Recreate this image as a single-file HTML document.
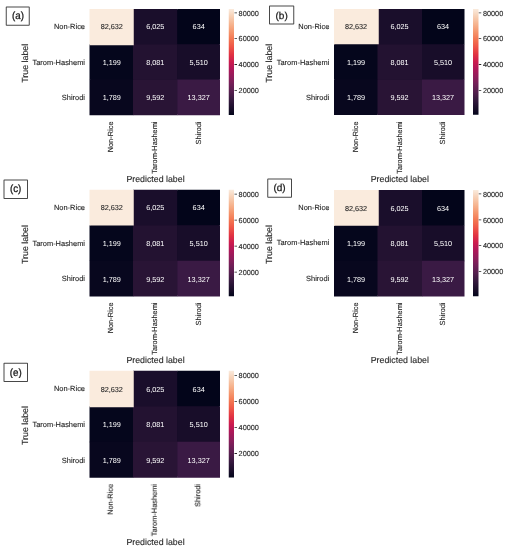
<!DOCTYPE html><html><head><meta charset="utf-8"><title>Confusion matrices</title><style>
html,body{margin:0;padding:0;background:#fff;overflow:hidden;}
#wrap{position:absolute;left:0;top:0;width:507px;height:550px;overflow:hidden;background:#fff;}
body{width:507px;height:550px;position:relative;overflow:hidden;font-family:"Liberation Sans",Arial,sans-serif;color:#262626;text-rendering:geometricPrecision;-webkit-text-stroke:0.48px currentColor;}
#root{position:absolute;left:0;top:0;width:2028.00px;height:2200.00px;transform:scale(0.25);transform-origin:0 0;filter:blur(1.60px);}
.p{position:absolute;left:0;top:0;}
.c{position:absolute;}
.v{position:absolute;-webkit-text-stroke:0;font-size:29.00px;line-height:40.00px;height:40.00px;text-align:center;color:#fff;white-space:nowrap;}
.v.d{color:#262626;-webkit-text-stroke:0.40px currentColor;}
.yl{position:absolute;font-size:29.80px;line-height:40.00px;height:40.00px;text-align:right;width:320.00px;white-space:nowrap;}
.xl{position:absolute;font-size:29.60px;line-height:40.00px;height:40.00px;width:320.00px;text-align:right;white-space:nowrap;transform-origin:100% 50%;transform:rotate(-90deg);}
.tl{position:absolute;font-size:35.40px;line-height:40.00px;height:40.00px;width:320.00px;text-align:center;white-space:nowrap;transform:rotate(-90deg);}
.pl{position:absolute;font-size:35.20px;line-height:40.00px;height:40.00px;width:400.00px;text-align:center;white-space:nowrap;}
.cb{position:absolute;background:linear-gradient(to top,#03051a 0%,#1c0f2c 7%,#35193e 14.3%,#531e4d 21.5%,#701f57 28.6%,#8f1d5b 35.7%,#ad1759 42.9%,#cb1b4f 50%,#e13342 57.1%,#ee5547 64.3%,#f37651 71.4%,#f5966d 78.6%,#f6b48f 85.7%,#f7d0b5 92.9%,#faebdd 100%);}
.tk{position:absolute;height:3.20px;width:10.00px;background:#262626;}
.tt{position:absolute;font-size:29.20px;line-height:40.00px;height:40.00px;white-space:nowrap;}
.bx{position:absolute;box-sizing:border-box;border:4.00px solid #484848;background:#fff;text-align:center;white-space:nowrap;color:#1a1a1a;border-radius:3.20px;}
.bx span{display:inline-block;}
</style></head><body><div id="wrap"><div id="root">
<div class="p">
<div class="c" style="left:362.40px;top:39.60px;width:513.60px;height:416.00px;background:#0c0920;z-index:0"></div>
<div class="c" style="left:358.40px;top:35.60px;width:176.67px;height:144.93px;background:#faebdd;z-index:2"></div>
<div class="c" style="left:532.27px;top:35.60px;width:177.47px;height:142.53px;background:#1a0e2b;z-index:1"></div>
<div class="c" style="left:708.53px;top:35.60px;width:171.47px;height:142.53px;background:#03051a;z-index:1"></div>
<div class="c" style="left:358.40px;top:176.93px;width:175.07px;height:142.53px;background:#05061c;z-index:1"></div>
<div class="c" style="left:532.27px;top:176.93px;width:177.47px;height:142.53px;background:#231231;z-index:1"></div>
<div class="c" style="left:708.53px;top:176.93px;width:171.47px;height:142.53px;background:#180d29;z-index:1"></div>
<div class="c" style="left:358.40px;top:318.27px;width:175.07px;height:142.53px;background:#08071e;z-index:1"></div>
<div class="c" style="left:532.27px;top:318.27px;width:177.47px;height:142.53px;background:#291435;z-index:1"></div>
<div class="c" style="left:708.53px;top:318.27px;width:171.47px;height:142.53px;background:#3a1a44;z-index:1"></div>
<div class="v d" style="left:360.00px;top:87.87px;width:173.87px;z-index:3">82,632</div>
<div class="v" style="left:533.87px;top:87.87px;width:173.87px;z-index:3">6,025</div>
<div class="v" style="left:707.73px;top:87.87px;width:173.87px;z-index:3">634</div>
<div class="v" style="left:360.00px;top:230.40px;width:173.87px;z-index:3">1,199</div>
<div class="v" style="left:533.87px;top:230.40px;width:173.87px;z-index:3">8,081</div>
<div class="v" style="left:707.73px;top:230.40px;width:173.87px;z-index:3">5,510</div>
<div class="v" style="left:360.00px;top:372.13px;width:173.87px;z-index:3">1,789</div>
<div class="v" style="left:533.87px;top:372.13px;width:173.87px;z-index:3">9,592</div>
<div class="v" style="left:707.73px;top:372.13px;width:173.87px;z-index:3">13,327</div>
<div class="yl" style="left:20.00px;top:86.27px">Non-Rice</div>
<div class="yl" style="left:20.00px;top:228.80px">Tarom-Hashemi</div>
<div class="yl" style="left:20.00px;top:370.53px">Shirodi</div>
<div class="xl" style="left:123.33px;top:466.00px">Non-Rice</div>
<div class="xl" style="left:299.20px;top:466.00px">Tarom-Hashemi</div>
<div class="xl" style="left:473.07px;top:466.00px">Shirodi</div>
<div class="tl" style="left:-60.00px;top:233.20px">True label</div>
<div class="pl" style="left:422.00px;top:696.40px">Predicted label</div>
<div class="cb" style="left:915.20px;top:35.60px;width:21.20px;height:424.00px"></div>
<div class="tk" style="left:937.60px;top:359.86px"></div>
<div class="tt" style="left:954.40px;top:343.06px">20000</div>
<div class="tk" style="left:937.60px;top:256.44px"></div>
<div class="tt" style="left:954.40px;top:239.64px">40000</div>
<div class="tk" style="left:937.60px;top:153.03px"></div>
<div class="tt" style="left:954.40px;top:136.23px">60000</div>
<div class="tk" style="left:937.60px;top:49.61px"></div>
<div class="tt" style="left:954.40px;top:32.81px">80000</div>
<div class="bx" style="left:23.20px;top:26.40px;width:96.00px;height:76.40px;line-height:68.40px;font-size:42.00px;-webkit-text-stroke:1.20px currentColor;"><span style="transform:scaleX(0.93);position:relative;top:-1.60px;">(a)</span></div>
</div>
<div class="p">
<div class="c" style="left:1339.60px;top:40.00px;width:514.00px;height:415.20px;background:#0c0920;z-index:0"></div>
<div class="c" style="left:1335.60px;top:36.00px;width:179.20px;height:140.67px;background:#faebdd;z-index:2"></div>
<div class="c" style="left:1509.60px;top:36.00px;width:179.20px;height:142.27px;background:#1a0e2b;z-index:1"></div>
<div class="c" style="left:1687.60px;top:36.00px;width:170.00px;height:142.27px;background:#03051a;z-index:1"></div>
<div class="c" style="left:1335.60px;top:177.07px;width:175.20px;height:142.27px;background:#05061c;z-index:1"></div>
<div class="c" style="left:1509.60px;top:177.07px;width:179.20px;height:142.27px;background:#231231;z-index:1"></div>
<div class="c" style="left:1687.60px;top:177.07px;width:170.00px;height:142.27px;background:#180d29;z-index:1"></div>
<div class="c" style="left:1335.60px;top:318.13px;width:175.20px;height:142.27px;background:#08071e;z-index:1"></div>
<div class="c" style="left:1509.60px;top:318.13px;width:179.20px;height:142.27px;background:#291435;z-index:1"></div>
<div class="c" style="left:1687.60px;top:318.13px;width:170.00px;height:142.27px;background:#3a1a44;z-index:1"></div>
<div class="v d" style="left:1337.20px;top:88.13px;width:174.00px;z-index:3">82,632</div>
<div class="v" style="left:1511.20px;top:88.13px;width:174.00px;z-index:3">6,025</div>
<div class="v" style="left:1685.20px;top:88.13px;width:174.00px;z-index:3">634</div>
<div class="v" style="left:1337.20px;top:231.60px;width:174.00px;z-index:3">1,199</div>
<div class="v" style="left:1511.20px;top:231.60px;width:174.00px;z-index:3">8,081</div>
<div class="v" style="left:1685.20px;top:231.60px;width:174.00px;z-index:3">5,510</div>
<div class="v" style="left:1337.20px;top:371.47px;width:174.00px;z-index:3">1,789</div>
<div class="v" style="left:1511.20px;top:371.47px;width:174.00px;z-index:3">9,592</div>
<div class="v" style="left:1685.20px;top:371.47px;width:174.00px;z-index:3">13,327</div>
<div class="yl" style="left:997.20px;top:86.53px">Non-Rice</div>
<div class="yl" style="left:997.20px;top:230.00px">Tarom-Hashemi</div>
<div class="yl" style="left:997.20px;top:369.87px">Shirodi</div>
<div class="xl" style="left:1100.60px;top:465.60px">Non-Rice</div>
<div class="xl" style="left:1276.60px;top:465.60px">Tarom-Hashemi</div>
<div class="xl" style="left:1450.60px;top:465.60px">Shirodi</div>
<div class="tl" style="left:917.20px;top:233.20px">True label</div>
<div class="pl" style="left:1399.40px;top:696.00px">Predicted label</div>
<div class="cb" style="left:1892.40px;top:36.00px;width:21.20px;height:423.20px"></div>
<div class="tk" style="left:1914.80px;top:359.65px"></div>
<div class="tt" style="left:1931.60px;top:342.85px">20000</div>
<div class="tk" style="left:1914.80px;top:256.43px"></div>
<div class="tt" style="left:1931.60px;top:239.63px">40000</div>
<div class="tk" style="left:1914.80px;top:153.21px"></div>
<div class="tt" style="left:1931.60px;top:136.41px">60000</div>
<div class="tk" style="left:1914.80px;top:49.98px"></div>
<div class="tt" style="left:1931.60px;top:33.18px">80000</div>
<div class="bx" style="left:1076.00px;top:21.60px;width:100.80px;height:76.00px;line-height:68.00px;font-size:40.00px;-webkit-text-stroke:1.00px currentColor;"><span style="position:relative;top:1.60px;">(b)</span></div>
</div>
<div class="p">
<div class="c" style="left:362.40px;top:763.20px;width:513.60px;height:418.00px;background:#0c0920;z-index:0"></div>
<div class="c" style="left:358.40px;top:759.20px;width:176.67px;height:142.40px;background:#faebdd;z-index:2"></div>
<div class="c" style="left:532.27px;top:759.20px;width:177.47px;height:143.20px;background:#1a0e2b;z-index:1"></div>
<div class="c" style="left:708.53px;top:759.20px;width:171.47px;height:143.20px;background:#03051a;z-index:1"></div>
<div class="c" style="left:358.40px;top:901.20px;width:175.07px;height:143.20px;background:#05061c;z-index:1"></div>
<div class="c" style="left:532.27px;top:901.20px;width:177.47px;height:143.20px;background:#231231;z-index:1"></div>
<div class="c" style="left:708.53px;top:901.20px;width:171.47px;height:143.20px;background:#180d29;z-index:1"></div>
<div class="c" style="left:358.40px;top:1043.20px;width:175.07px;height:143.20px;background:#08071e;z-index:1"></div>
<div class="c" style="left:532.27px;top:1043.20px;width:177.47px;height:143.20px;background:#291435;z-index:1"></div>
<div class="c" style="left:708.53px;top:1043.20px;width:171.47px;height:143.20px;background:#3a1a44;z-index:1"></div>
<div class="v d" style="left:360.00px;top:811.80px;width:173.87px;z-index:3">82,632</div>
<div class="v" style="left:533.87px;top:811.80px;width:173.87px;z-index:3">6,025</div>
<div class="v" style="left:707.73px;top:811.80px;width:173.87px;z-index:3">634</div>
<div class="v" style="left:360.00px;top:954.60px;width:173.87px;z-index:3">1,199</div>
<div class="v" style="left:533.87px;top:954.60px;width:173.87px;z-index:3">8,081</div>
<div class="v" style="left:707.73px;top:954.60px;width:173.87px;z-index:3">5,510</div>
<div class="v" style="left:360.00px;top:1097.80px;width:173.87px;z-index:3">1,789</div>
<div class="v" style="left:533.87px;top:1097.80px;width:173.87px;z-index:3">9,592</div>
<div class="v" style="left:707.73px;top:1097.80px;width:173.87px;z-index:3">13,327</div>
<div class="yl" style="left:20.00px;top:810.20px">Non-Rice</div>
<div class="yl" style="left:20.00px;top:953.00px">Tarom-Hashemi</div>
<div class="yl" style="left:20.00px;top:1096.20px">Shirodi</div>
<div class="xl" style="left:123.33px;top:1190.00px">Non-Rice</div>
<div class="xl" style="left:299.20px;top:1190.00px">Tarom-Hashemi</div>
<div class="xl" style="left:473.07px;top:1190.00px">Shirodi</div>
<div class="tl" style="left:-60.00px;top:957.80px">True label</div>
<div class="pl" style="left:422.00px;top:1422.00px">Predicted label</div>
<div class="cb" style="left:915.20px;top:759.20px;width:21.20px;height:426.00px"></div>
<div class="tk" style="left:937.60px;top:1086.59px"></div>
<div class="tt" style="left:954.40px;top:1069.79px">20000</div>
<div class="tk" style="left:937.60px;top:982.68px"></div>
<div class="tt" style="left:954.40px;top:965.88px">40000</div>
<div class="tk" style="left:937.60px;top:878.78px"></div>
<div class="tt" style="left:954.40px;top:861.98px">60000</div>
<div class="tk" style="left:937.60px;top:774.87px"></div>
<div class="tt" style="left:954.40px;top:758.07px">80000</div>
<div class="bx" style="left:13.60px;top:718.00px;width:98.40px;height:78.00px;line-height:70.00px;font-size:42.00px;-webkit-text-stroke:1.20px currentColor;"><span style="transform:scaleX(0.93);position:relative;top:-1.60px;">(c)</span></div>
</div>
<div class="p">
<div class="c" style="left:1339.60px;top:764.40px;width:514.00px;height:416.40px;background:#0c0920;z-index:0"></div>
<div class="c" style="left:1335.60px;top:760.40px;width:179.20px;height:142.67px;background:#faebdd;z-index:2"></div>
<div class="c" style="left:1509.60px;top:760.40px;width:179.20px;height:142.67px;background:#1a0e2b;z-index:1"></div>
<div class="c" style="left:1687.60px;top:760.40px;width:170.00px;height:142.67px;background:#03051a;z-index:1"></div>
<div class="c" style="left:1335.60px;top:901.87px;width:175.20px;height:142.67px;background:#05061c;z-index:1"></div>
<div class="c" style="left:1509.60px;top:901.87px;width:179.20px;height:142.67px;background:#231231;z-index:1"></div>
<div class="c" style="left:1687.60px;top:901.87px;width:170.00px;height:142.67px;background:#180d29;z-index:1"></div>
<div class="c" style="left:1335.60px;top:1043.33px;width:175.20px;height:142.67px;background:#08071e;z-index:1"></div>
<div class="c" style="left:1509.60px;top:1043.33px;width:179.20px;height:142.67px;background:#291435;z-index:1"></div>
<div class="c" style="left:1687.60px;top:1043.33px;width:170.00px;height:142.67px;background:#3a1a44;z-index:1"></div>
<div class="v d" style="left:1337.20px;top:812.73px;width:174.00px;z-index:3">82,632</div>
<div class="v" style="left:1511.20px;top:812.73px;width:174.00px;z-index:3">6,025</div>
<div class="v" style="left:1685.20px;top:812.73px;width:174.00px;z-index:3">634</div>
<div class="v" style="left:1337.20px;top:952.60px;width:174.00px;z-index:3">1,199</div>
<div class="v" style="left:1511.20px;top:952.60px;width:174.00px;z-index:3">8,081</div>
<div class="v" style="left:1685.20px;top:952.60px;width:174.00px;z-index:3">5,510</div>
<div class="v" style="left:1337.20px;top:1097.67px;width:174.00px;z-index:3">1,789</div>
<div class="v" style="left:1511.20px;top:1097.67px;width:174.00px;z-index:3">9,592</div>
<div class="v" style="left:1685.20px;top:1097.67px;width:174.00px;z-index:3">13,327</div>
<div class="yl" style="left:997.20px;top:811.13px">Non-Rice</div>
<div class="yl" style="left:997.20px;top:951.00px">Tarom-Hashemi</div>
<div class="yl" style="left:997.20px;top:1096.07px">Shirodi</div>
<div class="xl" style="left:1100.60px;top:1189.60px">Non-Rice</div>
<div class="xl" style="left:1276.60px;top:1189.60px">Tarom-Hashemi</div>
<div class="xl" style="left:1450.60px;top:1189.60px">Shirodi</div>
<div class="tl" style="left:917.20px;top:958.20px">True label</div>
<div class="pl" style="left:1399.40px;top:1421.60px">Predicted label</div>
<div class="cb" style="left:1892.40px;top:760.40px;width:21.20px;height:424.40px"></div>
<div class="tk" style="left:1914.80px;top:1084.57px"></div>
<div class="tt" style="left:1931.60px;top:1067.77px">20000</div>
<div class="tk" style="left:1914.80px;top:981.05px"></div>
<div class="tt" style="left:1931.60px;top:964.25px">40000</div>
<div class="tk" style="left:1914.80px;top:877.54px"></div>
<div class="tt" style="left:1931.60px;top:860.74px">60000</div>
<div class="tk" style="left:1914.80px;top:774.02px"></div>
<div class="tt" style="left:1931.60px;top:757.22px">80000</div>
<div class="bx" style="left:1068.80px;top:714.00px;width:98.80px;height:76.80px;line-height:68.80px;font-size:40.00px;-webkit-text-stroke:1.00px currentColor;"><span style="position:relative;top:-0.40px;">(d)</span></div>
</div>
<div class="p">
<div class="c" style="left:362.40px;top:1486.80px;width:513.60px;height:418.80px;background:#0c0920;z-index:0"></div>
<div class="c" style="left:358.40px;top:1482.80px;width:176.67px;height:145.87px;background:#faebdd;z-index:2"></div>
<div class="c" style="left:532.27px;top:1482.80px;width:177.47px;height:143.47px;background:#1a0e2b;z-index:1"></div>
<div class="c" style="left:708.53px;top:1482.80px;width:171.47px;height:143.47px;background:#03051a;z-index:1"></div>
<div class="c" style="left:358.40px;top:1625.07px;width:175.07px;height:143.47px;background:#05061c;z-index:1"></div>
<div class="c" style="left:532.27px;top:1625.07px;width:177.47px;height:143.47px;background:#231231;z-index:1"></div>
<div class="c" style="left:708.53px;top:1625.07px;width:171.47px;height:143.47px;background:#180d29;z-index:1"></div>
<div class="c" style="left:358.40px;top:1767.33px;width:175.07px;height:143.47px;background:#08071e;z-index:1"></div>
<div class="c" style="left:532.27px;top:1767.33px;width:177.47px;height:143.47px;background:#291435;z-index:1"></div>
<div class="c" style="left:708.53px;top:1767.33px;width:171.47px;height:143.47px;background:#3a1a44;z-index:1"></div>
<div class="v d" style="left:360.00px;top:1537.13px;width:173.87px;z-index:3">82,632</div>
<div class="v" style="left:533.87px;top:1537.13px;width:173.87px;z-index:3">6,025</div>
<div class="v" style="left:707.73px;top:1537.13px;width:173.87px;z-index:3">634</div>
<div class="v" style="left:360.00px;top:1680.20px;width:173.87px;z-index:3">1,199</div>
<div class="v" style="left:533.87px;top:1680.20px;width:173.87px;z-index:3">8,081</div>
<div class="v" style="left:707.73px;top:1680.20px;width:173.87px;z-index:3">5,510</div>
<div class="v" style="left:360.00px;top:1822.87px;width:173.87px;z-index:3">1,789</div>
<div class="v" style="left:533.87px;top:1822.87px;width:173.87px;z-index:3">9,592</div>
<div class="v" style="left:707.73px;top:1822.87px;width:173.87px;z-index:3">13,327</div>
<div class="yl" style="left:20.00px;top:1535.53px">Non-Rice</div>
<div class="yl" style="left:20.00px;top:1678.60px">Tarom-Hashemi</div>
<div class="yl" style="left:20.00px;top:1821.27px">Shirodi</div>
<div class="xl" style="left:123.33px;top:1916.00px">Non-Rice</div>
<div class="xl" style="left:299.20px;top:1916.00px">Tarom-Hashemi</div>
<div class="xl" style="left:473.07px;top:1916.00px">Shirodi</div>
<div class="tl" style="left:-60.00px;top:1681.80px">True label</div>
<div class="pl" style="left:422.00px;top:2148.00px">Predicted label</div>
<div class="cb" style="left:915.20px;top:1482.80px;width:21.20px;height:426.80px"></div>
<div class="tk" style="left:937.60px;top:1812.40px"></div>
<div class="tt" style="left:954.40px;top:1795.60px">20000</div>
<div class="tk" style="left:937.60px;top:1708.30px"></div>
<div class="tt" style="left:954.40px;top:1691.50px">40000</div>
<div class="tk" style="left:937.60px;top:1604.20px"></div>
<div class="tt" style="left:954.40px;top:1587.40px">60000</div>
<div class="tk" style="left:937.60px;top:1500.10px"></div>
<div class="tt" style="left:954.40px;top:1483.30px">80000</div>
<div class="bx" style="left:13.60px;top:1451.20px;width:98.40px;height:76.80px;line-height:68.80px;font-size:42.00px;-webkit-text-stroke:1.20px currentColor;"><span style="transform:scaleX(0.93);position:relative;top:-0.80px;">(e)</span></div>
</div>
</div></div></body></html>
